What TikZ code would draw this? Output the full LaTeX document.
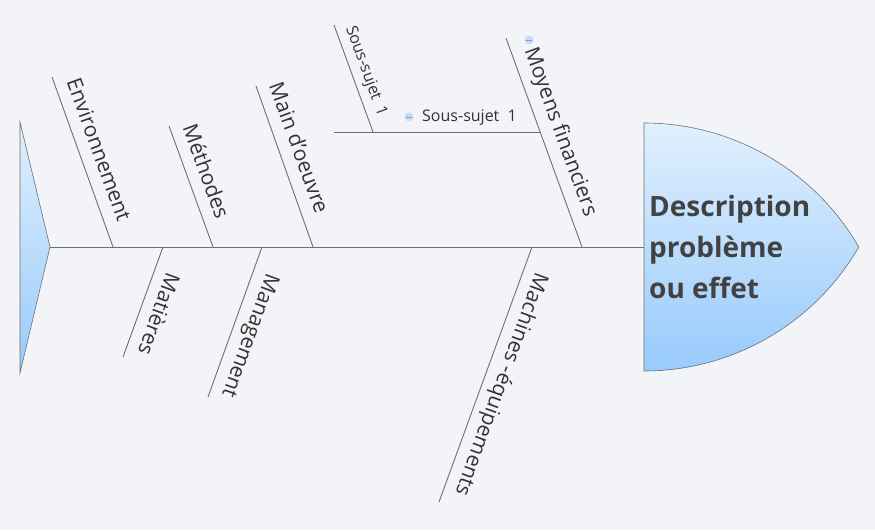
\documentclass[tikz,border=0pt]{standalone}
\usepackage{fontspec}
\setmainfont{Open Sans}
\usetikzlibrary{calc}
\definecolor{bgc}{RGB}{243,244,248}
\definecolor{bonec}{RGB}{112,112,112}
\definecolor{txtc}{RGB}{51,51,51}
\definecolor{headtxt}{RGB}{66,66,66}
\definecolor{fishtop}{RGB}{224,240,253}
\definecolor{fishbot}{RGB}{152,202,252}
\definecolor{icfill}{RGB}{200,220,244}
\definecolor{icline}{RGB}{125,155,200}

\begin{document}
\begin{tikzpicture}[
          bn/.style={line width=0.9pt, bonec},
          fish/.style={draw=bonec, line width=0.6pt, top color=fishtop, bottom color=fishbot},
          lb/.style={text=txtc, inner sep=0pt, anchor=base west, font=\fontsize{21}{25}\selectfont},
          sb/.style={lb, font=\fontsize{16}{19}\selectfont},
          ic/.style={circle, fill=icfill, minimum size=9pt, inner sep=0pt},
          icm/.style={icline, line width=0.8pt},
          x=1pt,
          y=1pt,
        ]
      \fill[bgc] (0,0) rectangle (875,530);
      \useasboundingbox (0,0) rectangle (875,530);
      % tail, spine and head
      \coordinate (tail) at (50,283);
      \coordinate (head) at (644,283);
      \draw[fish] (20,408) -- (tail) -- (20,157) -- cycle;
      \draw[fish] (644,159) -- (644,407) arc[start angle=90, end angle=30, radius=248]
            arc[start angle=-30, end angle=-90, radius=248] -- cycle;
      \draw[bn] (tail) -- (head);
      \node[text=headtxt, font=\fontsize{28}{41}\selectfont\bfseries, align=left,
            anchor=west, inner sep=0pt] (effet) at (649,283) {Description\\problème\\ou effet};
      % upper bones
      \coordinate (env-a) at (52,453);
      \coordinate (env-b) at (113,283);
      \coordinate (met-a) at (169,404);
      \coordinate (met-b) at (213,283);
      \coordinate (mo-a) at (256,444);
      \coordinate (mo-b) at (313,283);
      \coordinate (fin-a) at (506,492);
      \coordinate (fin-b) at (582,283);
      \draw[bn] (env-a) -- (env-b);
      \draw[bn] (met-a) -- (met-b);
      \draw[bn] (mo-a) -- (mo-b);
      \draw[bn] (fin-a) -- (fin-b);
      \node[lb, rotate=-70] (env) at ($(env-a)!9pt!(env-b)+(20:12)$) {Environnement};
      \node[lb, rotate=-70] (met) at ($(met-a)!6pt!(met-b)+(20:12)$) {Méthodes};
      \node[lb, rotate=-70] (mo) at ($(mo-a)!4pt!(mo-b)+(20:12)$) {Main d'oeuvre};
      \node[lb, rotate=-70] (fin) at ($(fin-a)!18pt!(fin-b)+(20:13)$) {Moyens financiers};
      \node[ic] (ic-fin) at (529,490) {};
      \draw[icm] ([xshift=2pt]ic-fin.west) -- ([xshift=-2pt]ic-fin.east);
      % sub-bone on Moyens financiers
      \coordinate (sub-a) at (540,398);
      \coordinate (sub-b) at (334,398);
      \coordinate (ss-a) at (334,505);
      \coordinate (ss-b) at (373,398);
      \draw[bn] (sub-a) -- (sub-b);
      \draw[bn] (ss-a) -- (ss-b);
      \node[sb, rotate=-70] (ss) at ($(ss-a)!7pt!(ss-b)+(20:10)$) {Sous-sujet\ \ 1};
      \node[sb] (sub) at (422,408) {Sous-sujet\ \ 1};
      \node[ic] (ic-sub) at (409,413) {};
      \draw[icm] ([xshift=2pt]ic-sub.west) -- ([xshift=-2pt]ic-sub.east);
      % lower bones
      \coordinate (mat-a) at (163,283);
      \coordinate (mat-b) at (123,173);
      \coordinate (man-a) at (262,283);
      \coordinate (man-b) at (208,133);
      \coordinate (mach-a) at (532,283);
      \coordinate (mach-b) at (439,28);
      \draw[bn] (mat-a) -- (mat-b);
      \draw[bn] (man-a) -- (man-b);
      \draw[bn] (mach-a) -- (mach-b);
      \node[lb, rotate=-110] (mat) at ($(mat-a)!22pt!(mat-b)+(-20:12)$) {Matières};
      \node[lb, rotate=-110] (man) at ($(man-a)!22pt!(man-b)+(-20:13)$) {Management};
      \node[lb, rotate=-110] (mach) at ($(mach-a)!22pt!(mach-b)+(-20:12)$) {Machines -équipements};
    \end{tikzpicture}
\end{document}
